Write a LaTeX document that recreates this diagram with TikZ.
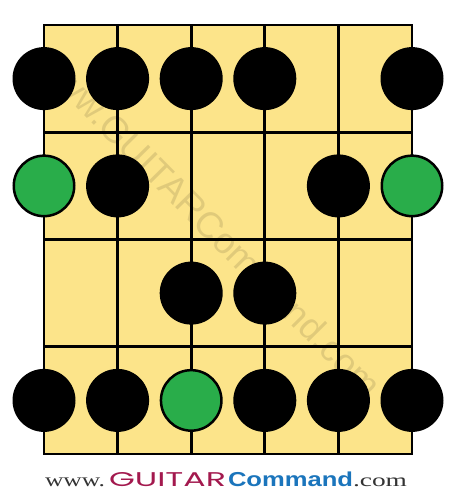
\documentclass[tikz,border=0pt]{standalone}
\usepackage{graphicx}
\usepackage{fontspec}
\setmainfont{Liberation Serif}
\newfontfamily\guitarfont{Poppins}
\newfontfamily\cmdfont{Liberation Sans}
\newfontfamily\wmfont{Liberation Sans}
\definecolor{board}{HTML}{FCE48A}
\definecolor{rootgreen}{HTML}{29AD4A}
\definecolor{logored}{HTML}{A3194E}
\definecolor{logoblue}{HTML}{1B75BC}
\definecolor{logogray}{HTML}{333333}
\tikzset{
  gridline/.style={line width=2.8pt, line cap=rect},
  blackdot/.style={circle, fill=black, minimum size=63pt, inner sep=0pt},
  greendot/.style={circle, fill=rootgreen, draw=black, line width=2.5pt, minimum size=60.5pt, inner sep=0pt},
  logopart/.style={anchor=base west, inner sep=0pt, outer sep=0pt}
}
\begin{document}
\begin{tikzpicture}[x=1pt,y=-1pt]
\useasboundingbox (0,0) rectangle (450,504);
\fill[white] (0,0) rectangle (450,504);
\fill[board] (44,25) rectangle (412,454);
% watermark
\begin{scope}
\clip (44,25) rectangle (412,454);
\node[rotate=-45.3, text=black, opacity=0.11, inner sep=0pt] (wm) at (210,224)
  {\resizebox{470pt}{!}{\wmfont www.GUITARCommand.com}};
\end{scope}
% strings
\foreach \i in {0,...,5} \draw[gridline] ({44+73.6*\i},25) -- ({44+73.6*\i},454);
% frets
\foreach \j in {0,...,4} \draw[gridline] (44,{25+107.25*\j}) -- (412,{25+107.25*\j});
% row 1
\node[blackdot] (a1) at (44,78.6) {};
\node[blackdot] (a2) at (117.6,78.6) {};
\node[blackdot] (a3) at (191.2,78.6) {};
\node[blackdot] (a4) at (264.8,78.6) {};
\node[blackdot] (a6) at (412,78.6) {};
% row 2
\node[greendot] (b1) at (44,185.9) {};
\node[blackdot] (b2) at (117.6,185.9) {};
\node[blackdot] (b5) at (338.4,185.9) {};
\node[greendot] (b6) at (412,185.9) {};
% row 3
\node[blackdot] (c3) at (191.2,293.1) {};
\node[blackdot] (c4) at (264.8,293.1) {};
% row 4
\node[blackdot] (d1) at (44,400.4) {};
\node[blackdot] (d2) at (117.6,400.4) {};
\node[greendot] (d3) at (191.2,400.4) {};
\node[blackdot] (d4) at (264.8,400.4) {};
\node[blackdot] (d5) at (338.4,400.4) {};
\node[blackdot] (d6) at (412,400.4) {};
% logo
\node[logopart, text=logogray] (www) at (45,486) {\resizebox{60pt}{8.6pt}{www.}};
\node[logopart, text=logored] (guitar) at (109,486) {\resizebox{117pt}{14pt}{\guitarfont GUITAR}};
\node[logopart, text=logoblue] (command) at (228,486) {\resizebox{125pt}{14.6pt}{\cmdfont\bfseries Command}};
\node[logopart, text=logogray] (com) at (353,486) {\resizebox{54pt}{8.6pt}{.com}};
\end{tikzpicture}
\end{document}
